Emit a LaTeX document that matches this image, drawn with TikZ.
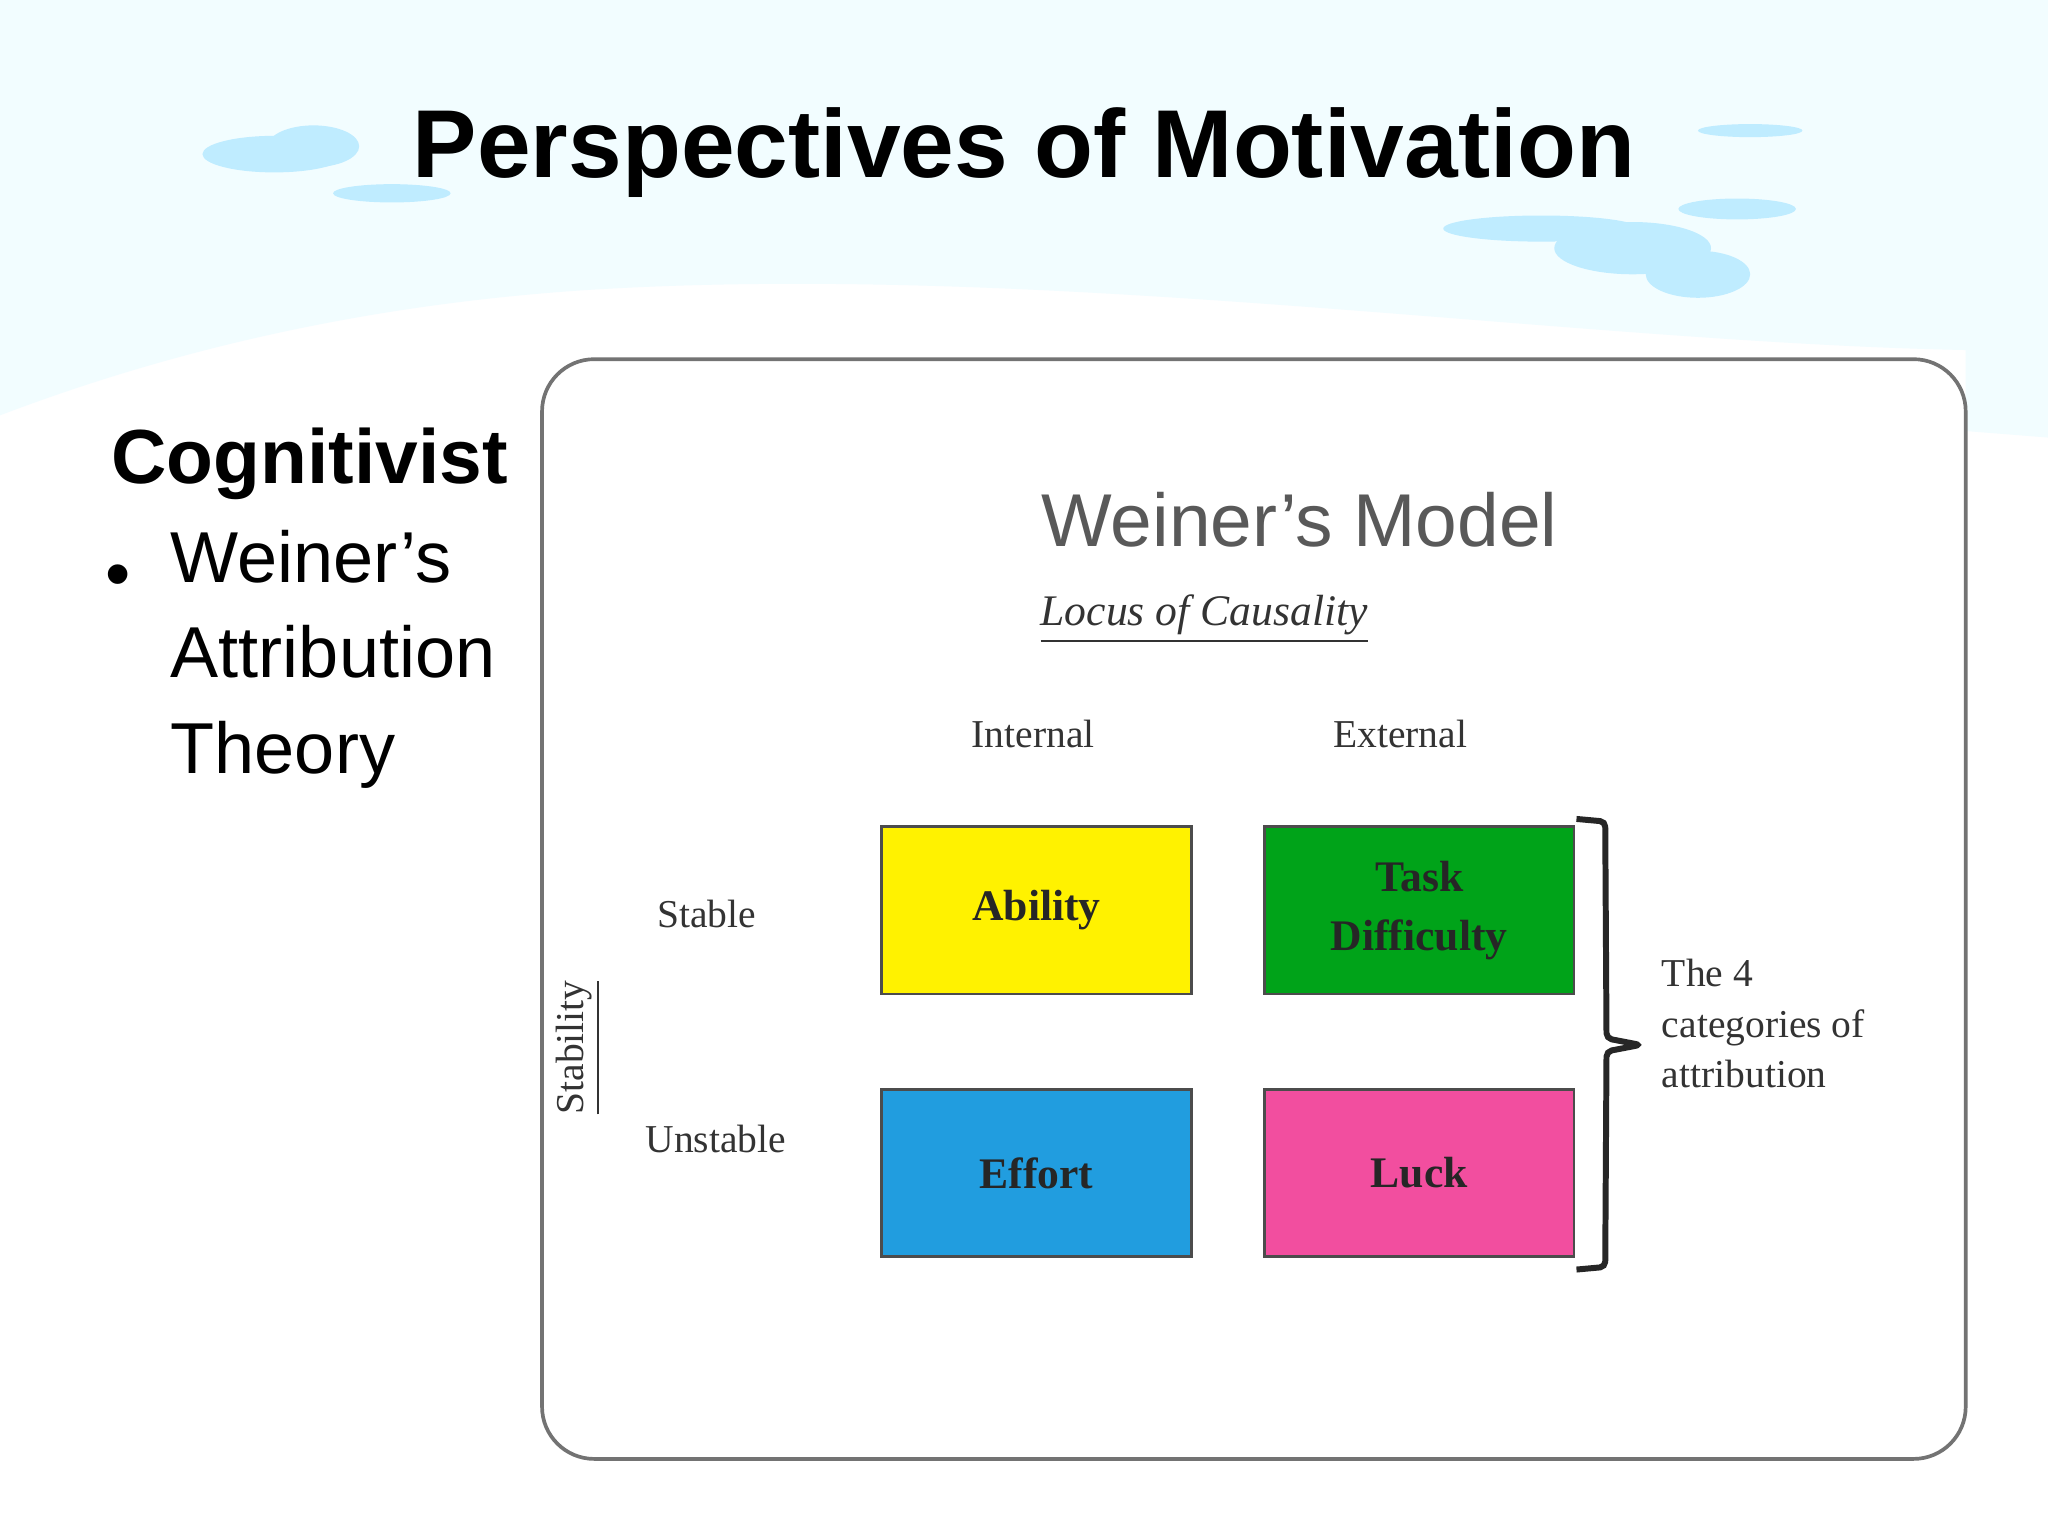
\documentclass[tikz,border=0pt]{standalone}
\usepackage{fontspec}
\setmainfont{Liberation Serif}
\setsansfont{Liberation Sans}
\begin{document}
\begin{tikzpicture}[x=0.01cm,y=-0.01cm,
  cell/.style={draw=black!70,line width=0.6pt,minimum width=237*0.01cm,minimum height=128*0.01cm,anchor=north west,font=\fontsize{9.5}{11}\selectfont\bfseries,align=center,text=black!85},
  lab/.style={font=\fontsize{8.6}{10}\selectfont,text=black!80},
  cloud/.style={fill=blue!30!cyan!25,draw=none}]
\useasboundingbox (0,0) rectangle (1568,1176);
\fill[white] (0,0) rectangle (1568,1176);
\fill[blue!13!cyan!5] (0,0) -- (1568,0) -- (1568,335) -- (1505,330) -- (1505,268) .. controls (1200,262) and (800,200) .. (450,222) .. controls (250,235) and (100,280) .. (0,318) -- cycle;
% clouds
\foreach \cx/\cy/\rx/\ry in {210/118/55/14, 240/112/35/16, 300/148/45/7, 1340/100/40/5, 1180/175/75/10, 1250/190/60/20, 1300/210/40/18, 1330/160/45/8}
  \fill[cloud] (\cx,\cy) ellipse ({\rx*0.01cm} and {\ry*0.01cm});
\node[font=\sffamily\bfseries\fontsize{21}{25}\selectfont] (title) at (784,117) {Perspectives of Motivation};
\node[font=\sffamily\bfseries\fontsize{16.7}{20}\selectfont,anchor=base west] (cog) at (73,370) {Cognitivist};
\node[font=\sffamily\fontsize{15.7}{20.8}\selectfont,anchor=base west] (b) at (68,458) {•};
\node[font=\sffamily\fontsize{15.7}{20.8}\selectfont,anchor=north west,align=left,inner sep=0pt] (att) at (130,405) {Weiner’s\\Attribution\\Theory};
\draw[black!55,fill=white,line width=0.8pt,rounded corners=40*0.01cm] (415,275) rectangle (1505,1117);
\node[font=\sffamily\fontsize{16.3}{20}\selectfont,text=black!65] (wm) at (995,398) {Weiner’s Model};
\node[lab,font=\fontsize{9.5}{11}\selectfont\itshape] (loc) at (922,474) {\underline{Locus of Causality}};
\node[lab] (int) at (791,562) {Internal};
\node[lab] (ext) at (1072,562) {External};
\node[lab] (st) at (541,700) {Stable};
\node[lab] (us) at (548,872) {Unstable};
\node[lab,rotate=90] (sy) at (443,802) {\underline{Stability}};
\node[cell,fill=yellow] (ab) at (674,632) {Ability};
\node[cell,fill=green!60!black!90!cyan] (td) at (967,632) {Task\\[2pt]Difficulty};
\node[cell,fill=cyan!80!blue!90] (ef) at (674,833) {Effort};
\node[cell,fill=magenta!85!red!70] (lu) at (967,833) {Luck};
\draw[black!85,line width=1.3pt,rounded corners=4*0.01cm] (1207,627) -- (1229,629) -- (1230,795) -- (1256,800) -- (1230,805) -- (1229,970) -- (1207,972);
\node[lab,anchor=north west,align=left,font=\fontsize{8.6}{11}\selectfont] (cat) at (1260,722) {The 4\\categories of\\attribution};
\end{tikzpicture}
\end{document}
